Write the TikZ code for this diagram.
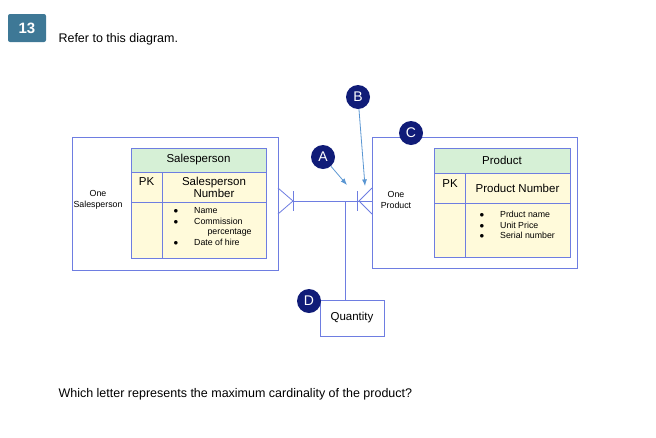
\documentclass[tikz,border=0pt]{standalone}
\usepackage{fontspec}
\setmainfont{Liberation Sans}
\usetikzlibrary{positioning, arrows.meta, calc}
\definecolor{erblue}{RGB}{110,125,225}
\definecolor{hdgreen}{RGB}{214,240,214}
\definecolor{bodyyel}{RGB}{255,250,218}
\definecolor{navy}{RGB}{16,28,120}
\definecolor{badge}{RGB}{62,120,150}
\definecolor{arrowblue}{RGB}{90,150,210}

\begin{document}
\begin{tikzpicture}[
    x=1pt, y=-1pt,
    >=Latex,
    % Styles
    outer/.style={ % Entity frame
        draw=erblue,
        thick
    },
    cellbox/.style={ % Table cells
        draw=erblue,
        thick
    },
    marker/.style={ % Letter markers
        circle,
        fill=navy,
        text=white,
        minimum size=24pt,
        inner sep=0pt,
        font=\fontsize{14}{16}\selectfont
    },
    pointer/.style={ % Arrows to the relation
        ->,
        arrowblue,
        thick
    },
    rel/.style={ % Relationship lines
        draw=erblue,
        thick
    },
    tabtext/.style={
        font=\fontsize{11.5}{12}\selectfont
    },
    small/.style={
        font=\fontsize{8.8}{10.5}\selectfont,
        align=center
    }
]
    \useasboundingbox (0,0) rectangle (656,437);

    % Question number and text
    \node [fill=badge, rounded corners=2pt, text=white, font=\bfseries\fontsize{15}{16}\selectfont,
        minimum width=38pt, minimum height=28pt] (num) at (27,28) {13};
    \node [anchor=base west, font=\fontsize{12.5}{14}\selectfont] (intro) at (55,42) {Refer to this diagram.};
    \node [anchor=base west, font=\fontsize{12.5}{14}\selectfont] (question) at (55,397)
        {Which letter represents the maximum cardinality of the product?};

    % Salesperson entity
    \draw [outer] (72,137) rectangle (278,270);
    \fill [hdgreen] (131,148) rectangle (266,172);
    \fill [bodyyel] (131,172) rectangle (266,258);
    \draw [cellbox] (131,148) rectangle (266,258);
    \draw [cellbox] (131,172) -- (266,172) (131,202) -- (266,202) (162,172) -- (162,258);
    \node [tabtext] (sp) at (198.5,160) {Salesperson};
    \node [tabtext] (sppk) at (146.5,182) {PK};
    \node [tabtext, align=center] (spnum) at (214,187) {Salesperson\\Number};
    \node [small] (spone) at (98,200) {One\\Salesperson};
    \node [small, anchor=north west, align=left] (spattr) at (170,204)
        {$\bullet$\hspace{16pt}Name\\$\bullet$\hspace{16pt}Commission\\\hspace{34pt}percentage\\$\bullet$\hspace{16pt}Date of hire};

    % Product entity
    \draw [outer] (372,137) rectangle (577,268);
    \fill [hdgreen] (434,148) rectangle (570,173);
    \fill [bodyyel] (434,173) rectangle (570,257);
    \draw [cellbox] (434,148) rectangle (570,257);
    \draw [cellbox] (434,173) -- (570,173) (434,203) -- (570,203) (465,173) -- (465,257);
    \node [tabtext] (pr) at (502,160) {Product};
    \node [tabtext] (prpk) at (450,184) {PK};
    \node [tabtext] (prnum) at (517.5,188) {Product Number};
    \node [small] (prone) at (396,200) {One\\Product};
    \node [small, anchor=north west, align=left] (prattr) at (476,208)
        {$\bullet$\hspace{16pt}Prduct name\\$\bullet$\hspace{16pt}Unit Price\\$\bullet$\hspace{16pt}Serial number};

    % Relationship with crow's feet
    \coordinate (lfoot) at (293,201);
    \coordinate (rfoot) at (359,201);
    \coordinate (join) at (345,201);
    \draw [rel] (278,188) -- (lfoot) -- (278,214);
    \draw [rel] (372,188) -- (rfoot) -- (372,214);
    \draw [rel] (293,191) -- (293,211) (357,191) -- (357,211);
    \draw [rel] (lfoot) -- (372,201);
    \node [draw=erblue, thick, minimum width=64pt, minimum height=36pt, tabtext] (qty) at (352,318) {Quantity};
    \draw [rel] (join) -- (join |- qty.north);

    % Letter markers
    \node [marker] (A) at (323,157) {A};
    \node [marker] (B) at (358,97) {B};
    \node [marker] (C) at (411,133) {C};
    \node [marker] (D) at (309,301) {D};
    \coordinate (atip) at (347,185);
    \coordinate (btip) at (365,186);
    \draw [pointer] (A) -- (atip);
    \draw [pointer] (B) -- (btip);
\end{tikzpicture}
\end{document}
